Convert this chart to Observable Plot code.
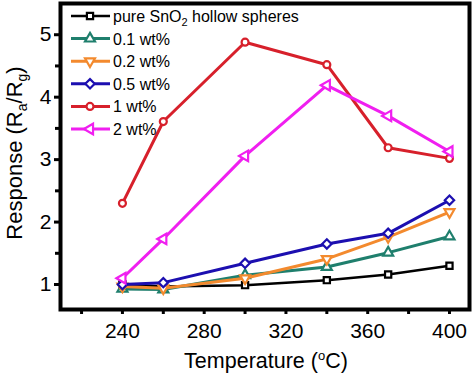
<!DOCTYPE html>
<html>
<head>
<meta charset="utf-8">
<script src="https://cdn.jsdelivr.net/npm/d3@7"></script>
<script src="https://cdn.jsdelivr.net/npm/@observablehq/plot@0.6"></script>
<style>
  html, body { margin: 0; padding: 0; background: #fff; }
  #chart svg { display: block; }
</style>
</head>
<body>
<div id="chart"></div>
<script>
// ---- data ----
const temperatures = [240, 260, 300, 340, 370, 400];
const seriesNames = ["pure SnO2 hollow spheres", "0.1 wt%", "0.2 wt%", "0.5 wt%", "1 wt%", "2 wt%"];
const pureSnO2 = [1.00, 0.97, 0.99, 1.07, 1.16, 1.30];
const wt01 = [0.93, 0.92, 1.15, 1.28, 1.51, 1.77];
const wt02 = [0.97, 0.94, 1.10, 1.41, 1.76, 2.16];
const wt05 = [1.00, 1.03, 1.34, 1.65, 1.82, 2.35];
const wt1 = [2.30, 3.61, 4.88, 4.52, 3.19, 3.02];
const wt2 = [1.10, 1.73, 3.06, 4.19, 3.70, 3.13];
const xMajorTicks = [240, 280, 320, 360, 400];
const xMinorTicks = [220, 260, 300, 340, 380];
const yMajorTicks = [1, 2, 3, 4, 5];
const yMinorTicks = [1.5, 2.5, 3.5, 4.5];

// ---- styles ----
const colors = ["#000000", "#1f7f6d", "#f38a2e", "#1c0fb0", "#d7202b", "#f01ff0"];
const tri = (dir) => ({
  draw(ctx, size) {
    const s = Math.sqrt(4 * size / Math.sqrt(3));
    const h = s * Math.sqrt(3) / 2;
    const pts = dir === "down" ? [[0, 2*h/3], [s/2, -h/3], [-s/2, -h/3]]
      : dir === "left" ? [[-2*h/3, 0], [h/3, -s/2], [h/3, s/2]]
      : [[0, -2*h/3], [s/2, h/3], [-s/2, h/3]];
    ctx.moveTo(...pts[0]); ctx.lineTo(...pts[1]); ctx.lineTo(...pts[2]); ctx.closePath();
  }
});
const symbols = [d3.symbolSquare, tri("up"), tri("down"), d3.symbolDiamond2, d3.symbolCircle, tri("left")];
const radii = [3.5, 3.7, 3.7, 4.2, 3.5, 3.9];
const allValues = [pureSnO2, wt01, wt02, wt05, wt1, wt2];

const data = [];
allValues.forEach((vals, si) => vals.forEach((v, i) => data.push({series: si, x: temperatures[i], y: v})));

const font = "'Liberation Sans', Arial, Helvetica, sans-serif";

const marks = [];
allValues.forEach((vals, si) => {
  const d = data.filter(p => p.series === si);
  marks.push(Plot.line(d, {x: "x", y: "y", stroke: colors[si], strokeWidth: si === 0 ? 2.5 : 3}));
  marks.push(Plot.dot(d, {x: "x", y: "y", stroke: colors[si], fill: "#fff", strokeWidth: 2.2, symbol: () => symbols[si], r: radii[si]}));
});

const chart = Plot.plot({
  width: 474,
  height: 377,
  marginLeft: 60,
  marginRight: 5,
  marginTop: 3,
  marginBottom: 68,
  style: {fontFamily: font, background: "#fff", color: "#000"},
  x: {domain: [209.7, 409.8]},
  y: {domain: [0.6, 5.5]},
  marks: [
    ...marks,
    Plot.axisX({ticks: xMajorTicks, tickSize: 5, tickPadding: 9, fontSize: 21, label: null, strokeWidth: 3, tickFormat: d => String(d)}),
    Plot.axisX({ticks: xMinorTicks, tickSize: 5, tickFormat: () => "", label: null, strokeWidth: 3}),
    Plot.axisY({ticks: yMajorTicks, tickSize: 6, tickPadding: 3, fontSize: 21, label: null, strokeWidth: 3, tickFormat: d => String(d)}),
    Plot.axisY({ticks: yMinorTicks, tickSize: 5, tickFormat: () => "", label: null, strokeWidth: 3}),
    Plot.frame({stroke: "#000", strokeWidth: 4})
  ]
});

const svg = d3.select(chart);

// Axis titles
const xt = svg.append("text")
  .attr("x", 266).attr("y", 368)
  .attr("text-anchor", "middle")
  .attr("font-size", 21.5).attr("font-family", font).attr("fill", "#000");
xt.append("tspan").text("Temperature (");
xt.append("tspan").attr("font-size", 13).attr("dy", -8).text("o");
xt.append("tspan").attr("dy", 8).text("C)");

const yt = svg.append("text")
  .attr("transform", "translate(22,153) rotate(-90)")
  .attr("text-anchor", "middle")
  .attr("font-size", 22).attr("font-family", font).attr("fill", "#000");
yt.append("tspan").text("Response (R");
yt.append("tspan").attr("font-size", 14).attr("dy", 5).text("a");
yt.append("tspan").attr("dy", -5).text("/R");
yt.append("tspan").attr("font-size", 14).attr("dy", 5).text("g");
yt.append("tspan").attr("dy", -5).text(")");

// Legend
const legend = svg.append("g").attr("font-family", font).attr("font-size", 16).attr("text-anchor", "start");
seriesNames.forEach((name, i) => {
  const cy = 16 + i * 22.6;
  const g = legend.append("g").attr("transform", `translate(0,${cy})`);
  g.append("line").attr("x1", 71).attr("x2", 110).attr("y1", 0).attr("y2", 0)
    .attr("stroke", colors[i]).attr("stroke-width", i === 0 ? 2.5 : 3);
  g.append("path").attr("transform", "translate(90,0)")
    .attr("d", d3.symbol(symbols[i], radii[i] * radii[i] * Math.PI)())
    .attr("fill", "#fff").attr("stroke", colors[i]).attr("stroke-width", 2.2);
  const t = g.append("text").attr("x", 113).attr("y", 6).attr("fill", "#000").attr("text-anchor", "start");
  if (i === 0) {
    t.append("tspan").text("pure SnO");
    t.append("tspan").attr("font-size", 11).attr("dy", 4).text("2");
    t.append("tspan").attr("dy", -4).text(" hollow spheres");
  } else {
    t.text(name);
  }
});

document.getElementById("chart").appendChild(chart);
</script>
</body>
</html>
